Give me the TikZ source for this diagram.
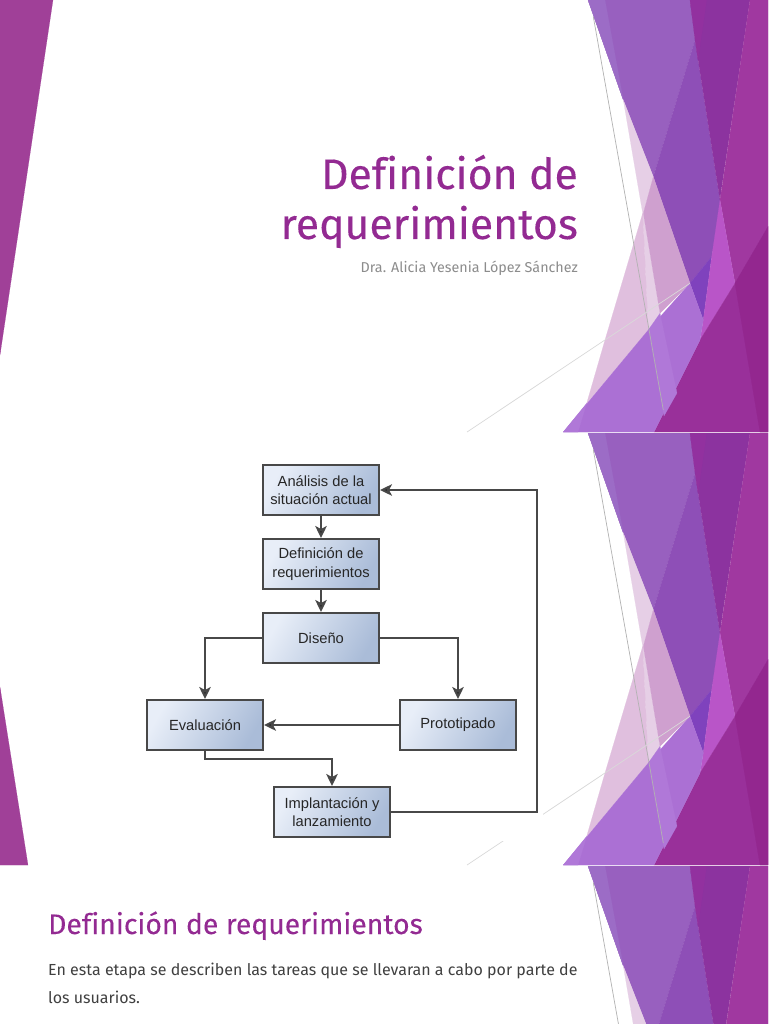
\documentclass[tikz,border=0pt]{standalone}
\usepackage{fontspec}
\setmainfont[Ligatures=NoCommon]{Fira Sans}
\newfontfamily\boxfont{Liberation Sans}
\usetikzlibrary{arrows.meta}
\definecolor{cA}{HTML}{9C6CC6}
\definecolor{cB}{HTML}{9860BF}
\definecolor{cC}{HTML}{8E4FB7}
\definecolor{cD}{HTML}{7F42BD}
\definecolor{cE}{HTML}{8C339F}
\definecolor{cF}{HTML}{92319F}
\definecolor{cG}{HTML}{A038A0}
\definecolor{cH}{HTML}{B955C8}
\definecolor{cI}{HTML}{99309A}
\definecolor{cJ}{HTML}{93278F}
\definecolor{cK}{HTML}{AB70D4}
\definecolor{cL}{HTML}{B078D8}
\definecolor{cM}{HTML}{E6CFE6}
\definecolor{cN}{HTML}{E0BFDE}
\definecolor{cO}{HTML}{CFA0CF}
\definecolor{cP}{HTML}{A04098}
\definecolor{title}{HTML}{932A92}
\definecolor{boxline}{HTML}{484848}
\definecolor{boxlight}{HTML}{E8EEF8}
\definecolor{boxblue}{HTML}{AABCD8}
\tikzset{
  facet/.style={fill=#1,draw=#1,line width=0.15pt},
  thinline/.style={draw=#1,line width=0.7pt},
  flowbox/.style={draw=boxline,line width=2pt,left color=boxlight,right color=boxblue,shading angle=60,
    minimum width=116pt,minimum height=50pt,inner sep=0pt,align=center,text=black!85,
    font=\boxfont\fontsize{14.7}{18.5}\selectfont},
  flow/.style={draw=boxline,line width=2pt,-{Stealth[length=12pt,width=11.5pt,inset=3pt,fill=black!85]}},
  slidetext/.style={inner sep=0pt,text=#1},
}
\newcommand{\facetdeco}[1]{%
\begin{scope}[yshift=-#1pt]
\clip (560,0) rectangle (768,432);
\fill[facet=cB] (588,0) -- (690,0) -- (695,40) -- (653.3,176.7) -- (623.3,100) -- cycle;
\fill[facet=cA] (588,0) -- (605,0) -- (623.3,100) -- cycle;
\fill[facet=cC] (695,40) -- (720,200) -- (720,213) -- (711.7,256.7) -- (690,283.3) -- (653.3,176.7) -- cycle;
\fill[facet=cD] (711.7,256.7) -- (703.3,320) -- (690,283.3) -- cycle;
\fill[facet=cE] (690,0) -- (750,0) -- (721.7,187) -- (720,200) -- (695,40) -- cycle;
\fill[facet=cF] (690,0) -- (706.7,0) -- (698,60) -- cycle;
\fill[facet=cG] (750,0) -- (768,0) -- (768,226.7) -- (735,283.3) -- (720,200) -- cycle;
\fill[facet=cH] (720,200) -- (735,283.3) -- (700,340) -- (703.3,320) -- (711.7,256.7) -- cycle;
\fill[facet=cI] (768,226.7) -- (768,432) -- (654,432) -- (700,340) -- (735,283.3) -- cycle;
\fill[facet=cJ] (735,283.3) -- (768,226.7) -- (768,432) -- (760,432) -- cycle;
\fill[facet=cM] (623.3,100) -- (653.3,176.7) -- (643.3,213.3) -- (660,313.3) -- (648.3,330) -- (642.7,213.3) -- cycle;
\fill[facet=cN] (642.7,213.3) -- (648.3,330) -- (586.7,403.3) -- (605,340) -- cycle;
\fill[facet=cO] (653.3,176.7) -- (690,283.3) -- (660,313.3) -- (643.3,213.3) -- cycle;
\fill[facet=cK] (690,283.3) -- (703.3,320) -- (700,340) -- (654,432) -- (563.3,432) -- (648.3,330) -- cycle;
\fill[facet=cL] (648.3,330) -- (660,313.3) -- (677,393) -- (664,416) -- cycle;
\fill[facet=cL] (586.7,403.3) -- (578,432) -- (563.3,432) -- cycle;
\draw[thinline=black!30] (593.3,16.7) -- (663.3,410);
\end{scope}}
\begin{document}
\begin{tikzpicture}[x=1pt,y=-1pt]
\useasboundingbox (0,0) rectangle (768,1024);
\fill[white] (0,0) rectangle (768,1024);
% slide decoration
\facetdeco{0}
\facetdeco{433}
\begin{scope}
\clip (0,866) rectangle (768,1024);
\facetdeco{866}
\end{scope}
\fill[facet=cP] (0,0) -- (53,0) -- (0,355) -- cycle;
\fill[facet=cP] (0,687) -- (28,865) -- (0,865) -- cycle;
\draw[thinline=black!15] (467,432) -- (690,283.3);
\draw[thinline=black!15] (467,865) -- (690,716.3);
% slide 1 text
\node[slidetext=title,anchor=base east,font=\fontsize{42.7}{50}\selectfont\addfontfeature{FakeBold=0.25}] (t1) at (578,189) {Definición de};
\node[slidetext=title,anchor=base east,font=\fontsize{42.7}{50}\selectfont\addfontfeature{FakeBold=0.25}] (t2) at (578,239) {requerimientos};
\node[slidetext=black!45,anchor=base east,font=\fontsize{14.3}{16}\selectfont] (t3) at (578,272) {Dra. Alicia Yesenia López Sánchez};
% slide 2 picture background
\fill[white] (130,433) rectangle (543,841);
\node[flowbox] (ana) at (321,490) {Análisis de la\\situación actual};
\node[flowbox] (def) at (321,564) {Definición de\\requerimientos};
\node[flowbox] (dis) at (321,638) {Diseño};
\node[flowbox] (eva) at (205,725) {Evaluación};
\node[flowbox] (pro) at (458,725) {Prototipado};
\node[flowbox] (imp) at (332,812) {Implantación y\\lanzamiento};
\coordinate (evb) at (205,759);
\coordinate (back) at (537,650);
\draw[flow] (ana) -- (def);
\draw[flow] (def) -- (dis);
\draw[flow] (dis.west) -| (eva.north);
\draw[flow] (dis.east) -| (pro.north);
\draw[flow] (pro.west) -- (eva.east);
\draw[flow] (eva.south) -- (evb) -| (imp.north);
\draw[flow] (imp.east) -| (back) |- (ana.east);
% slide 3 text
\node[slidetext=title,anchor=base west,font=\fontsize{28.3}{32}\selectfont\addfontfeature{FakeBold=0.12}] (h3) at (48,934) {Definición de requerimientos};
\node[slidetext=black!75,anchor=base west,font=\fontsize{16}{28}\selectfont] (b1) at (48,975) {En esta etapa se describen las tareas que se llevaran a cabo por parte de};
\node[slidetext=black!75,anchor=base west,font=\fontsize{16}{28}\selectfont] (b2) at (48,1003) {los usuarios.};
\end{tikzpicture}
\end{document}
